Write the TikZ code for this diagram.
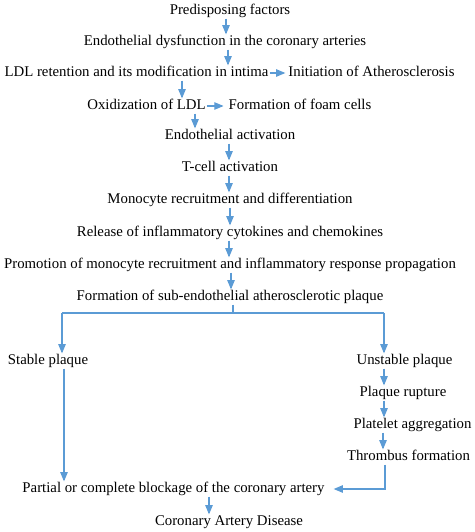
\documentclass[tikz,border=0pt]{standalone}
\usepackage{fontspec}
\setmainfont{Liberation Serif}
\usepackage{tikz}
\usetikzlibrary{arrows,calc,positioning}
\definecolor{flowblue}{RGB}{91,155,213}

\begin{document}
\begin{tikzpicture}[>=triangle 45,x=1pt,y=-1pt,
	flowtext/.style={inner sep=1pt,text height=10pt,text depth=3pt,font=\fontsize{14.8}{17}\selectfont},
	flow/.style={draw=flowblue,line width=1.1pt}]
	\useasboundingbox (0,0) rectangle (474,532);

	% main column
	\node[flowtext] (pf) at (230,11) {Predisposing factors};
	\node[flowtext] (edc) at (225,42) {Endothelial dysfunction in the coronary arteries};
	\node[flowtext] (ldl) at (136.5,73) {LDL retention and its modification in intima};
	\node[flowtext] (init) at (371.5,73) {Initiation of Atherosclerosis};
	\node[flowtext] (oxi) at (146.5,106) {Oxidization of LDL};
	\node[flowtext] (foam) at (300,106) {Formation of foam cells};
	\node[flowtext] (ea) at (230,136) {Endothelial activation};
	\node[flowtext] (tc) at (230,168) {T-cell activation};
	\node[flowtext] (mono) at (230,200) {Monocyte recruitment and differentiation};
	\node[flowtext] (rel) at (230,233) {Release of inflammatory cytokines and chemokines};
	\node[flowtext] (prom) at (230,265) {Promotion of monocyte recruitment and inflammatory response propagation};
	\node[flowtext] (form) at (230,297) {Formation of sub-endothelial atherosclerotic plaque};

	% branches
	\node[flowtext] (stab) at (48,361) {Stable plaque};
	\node[flowtext] (unst) at (404.5,361) {Unstable plaque};
	\node[flowtext] (rup) at (403,393) {Plaque rupture};
	\node[flowtext] (plat) at (412.5,425) {Platelet aggregation};
	\node[flowtext] (thr) at (408.5,457) {Thrombus formation};
	\node[flowtext] (block) at (173.5,489) {Partial or complete blockage of the coronary artery};
	\node[flowtext] (cad) at (229,522) {Coronary Artery Disease};
	\coordinate (split) at (233,313); \coordinate (lsplit) at (62,313); \coordinate (rsplit) at (384,313);

	\draw[flow,->] ([xshift=-4pt]pf.south) -- ([xshift=-4pt]pf.south |- edc.north); \draw[flow,->] ([xshift=3pt]edc.south) -- ([xshift=3pt]edc.south |- ldl.north);
	\draw[flow,->] (ldl.east) -- ([xshift=-2pt]init.west); \draw[flow,->] ([xshift=45.5pt]ldl.south) -- ([xshift=45.5pt]ldl.south |- oxi.north);
	\draw[flow,->] (oxi.east) -- ([xshift=-4pt]foam.west); \draw[flow,->] ([xshift=48.5pt]oxi.south) -- ([xshift=48.5pt]oxi.south |- ea.north);
	\draw[flow,->] ([xshift=-1pt]ea.south) -- ([xshift=-1pt]tc.north); \draw[flow,->] ([xshift=-1pt]tc.south) -- ([xshift=-1pt]mono.north);
	\draw[flow,->] (mono.south) -- (rel.north); \draw[flow,->] ([xshift=-1pt]rel.south) -- ([xshift=-1pt]prom.north); \draw[flow,->] ([xshift=1pt]prom.south) -- ([xshift=1pt]form.north);

	\draw[flow] (form.south -| split) -- (split); \draw[flow] (lsplit) -- (rsplit);
	\draw[flow,->] (lsplit) -- (lsplit |- stab.north); \draw[flow,->] (rsplit) -- (rsplit |- unst.north);
	\draw[flow,->] ([xshift=-20.5pt]unst.south) -- ([xshift=-20.5pt]unst.south |- rup.north); \draw[flow,->] ([xshift=-19pt]rup.south) -- ([xshift=-19pt]rup.south |- plat.north);
	\draw[flow,->] ([xshift=-29.5pt]plat.south) -- ([xshift=-29.5pt]plat.south |- thr.north);
	\draw[flow,->] ([xshift=16pt]stab.south) -- ([xshift=16pt]stab.south |- block.north);
	\draw[flow,->] ([xshift=-23.5pt]thr.south) |- ([xshift=8pt]block.east);
	\draw[flow,->] ([xshift=35.5pt]block.south) -- ([xshift=35.5pt]block.south |- cad.north);
\end{tikzpicture}
\end{document}
